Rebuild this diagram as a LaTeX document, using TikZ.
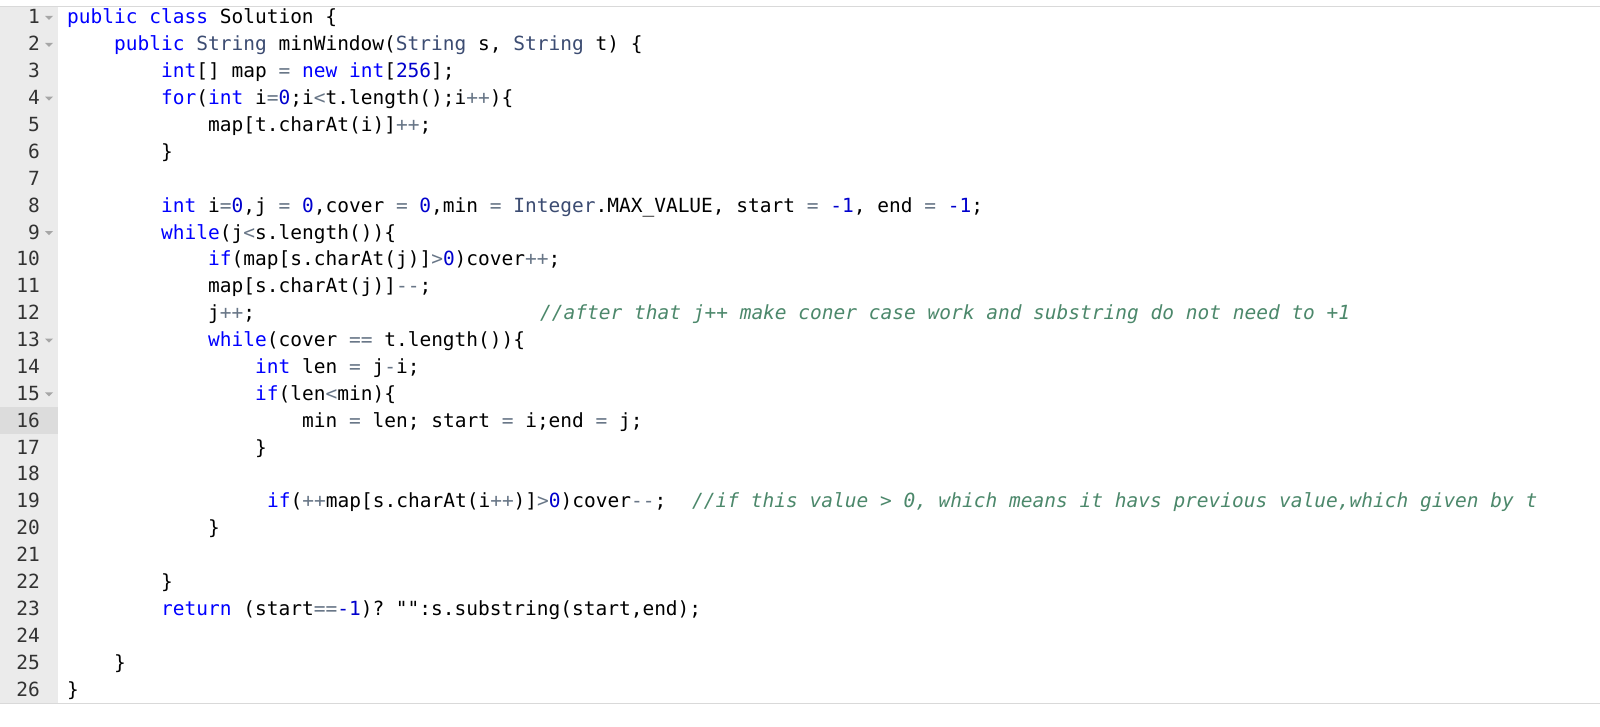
\documentclass[tikz,border=0pt]{standalone}
\usepackage{fontspec}
\setmonofont{DejaVu Sans Mono}
\usepackage{xcolor}
\definecolor{kwc}{HTML}{0000FF}
\definecolor{numc}{HTML}{0000CD}
\definecolor{opc}{HTML}{687687}
\definecolor{tyc}{HTML}{3C4C72}
\definecolor{cmc}{HTML}{4C886B}
\definecolor{gutc}{HTML}{EBEBEB}
\definecolor{gutact}{HTML}{DCDCDC}
\definecolor{lnc}{HTML}{333333}
\newcommand\ckw[1]{\textcolor{kwc}{#1}}
\newcommand\cnum[1]{\textcolor{numc}{#1}}
\newcommand\cop[1]{\textcolor{opc}{#1}}
\newcommand\cty[1]{\textcolor{tyc}{#1}}
\newcommand\ccm[1]{\textcolor{cmc}{\itshape #1}}
\tikzset{code/.style={anchor=base west,inner sep=0pt,font=\ttfamily\fontsize{19.5}{24}\selectfont},
 lnum/.style={anchor=base east,inner sep=0pt,text=lnc,font=\ttfamily\fontsize{19.5}{24}\selectfont}}
\begin{document}
\begin{tikzpicture}[x=1pt,y=-1pt]
\useasboundingbox (0,0) rectangle (1600,727);
\fill[white] (0,0) rectangle (1600,727);
\fill[gutc] (0,7) rectangle (58,703);
\fill[gutact] (0,407) rectangle (58,434);
\draw[gray!30,line width=1pt] (0,6.5) -- (1600,6.5);
\draw[gray!30,line width=1pt] (0,703.5) -- (1600,703.5);
\foreach \k in {1,...,26} \node[lnum] (n\k) at (40,{24+26.88*(\k-1)}) {\k};
\foreach \k in {1,2,4,9,13,15} \fill[gray!70] (45,{18+26.88*(\k-1)-2}) -- (53,{18+26.88*(\k-1)-2}) -- (49,{18+26.88*(\k-1)+2}) -- cycle;
\node[code] (c1) at (67,{24+26.88*0}) {\ckw{public class} Solution \{};
\node[code] (c2) at (114,{24+26.88*1}) {\ckw{public} \cty{String} minWindow(\cty{String} s, \cty{String} t) \{};
\node[code] (c3) at (161,{24+26.88*2}) {\ckw{int}[] map \cop{=} \ckw{new} \ckw{int}[\cnum{256}];};
\node[code] (c4) at (161,{24+26.88*3}) {\ckw{for}(\ckw{int} i\cop{=}\cnum{0};i\cop{<}t.length();i\cop{++})\{};
\node[code] (c5) at (208,{24+26.88*4}) {map[t.charAt(i)]\cop{++};};
\node[code] (c6) at (161,{24+26.88*5}) {\}};
\node[code] (c8) at (161,{24+26.88*7}) {\ckw{int} i\cop{=}\cnum{0},j \cop{=} \cnum{0},cover \cop{=} \cnum{0},min \cop{=} \cty{Integer}.MAX\_VALUE, start \cop{=} \cnum{-1}, end \cop{=} \cnum{-1};};
\node[code] (c9) at (161,{24+26.88*8}) {\ckw{while}(j\cop{<}s.length())\{};
\node[code] (c10) at (208,{24+26.88*9}) {\ckw{if}(map[s.charAt(j)]\cop{>}\cnum{0})cover\cop{++};};
\node[code] (c11) at (208,{24+26.88*10}) {map[s.charAt(j)]\cop{-{}-};};
\node[code] (c12) at (208,{24+26.88*11}) {j\cop{++};};
\node[code] (m12) at (540,{24+26.88*11}) {\ccm{//after that j++ make coner case work and substring do not need to +1}};
\node[code] (c13) at (208,{24+26.88*12}) {\ckw{while}(cover \cop{==} t.length())\{};
\node[code] (c14) at (255,{24+26.88*13}) {\ckw{int} len \cop{=} j\cop{-}i;};
\node[code] (c15) at (255,{24+26.88*14}) {\ckw{if}(len\cop{<}min)\{};
\node[code] (c16) at (302,{24+26.88*15}) {min \cop{=} len; start \cop{=} i;end \cop{=} j;};
\node[code] (c17) at (255,{24+26.88*16}) {\}};
\node[code] (c19) at (267,{24+26.88*18}) {\ckw{if}(\cop{++}map[s.charAt(i\cop{++})]\cop{>}\cnum{0})cover\cop{-{}-};};
\node[code] (m19) at (692,{24+26.88*18}) {\ccm{//if this value > 0, which means it havs previous value,which given by t}};
\node[code] (c20) at (208,{24+26.88*19}) {\}};
\node[code] (c22) at (161,{24+26.88*21}) {\}};
\node[code] (c23) at (161,{24+26.88*22}) {\ckw{return} (start\cop{==}\cnum{-1})? "":s.substring(start,end);};
\node[code] (c25) at (114,{24+26.88*24}) {\}};
\node[code] (c26) at (67,{24+26.88*25}) {\}};
\end{tikzpicture}
\end{document}
